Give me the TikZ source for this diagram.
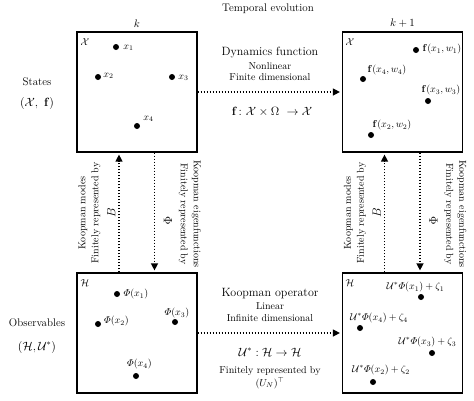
\documentclass[tikz,border=0pt]{standalone}
\usepackage{amsmath,amssymb}
\usetikzlibrary{arrows.meta,positioning}

\tikzset{
  space/.style={draw, line width=1.2pt, minimum size=120pt, inner sep=0pt},
  pt/.style={circle, fill, inner sep=0pt, minimum size=6pt},
  flow/.style={line width=1.3pt, dash pattern=on 1.3pt off 1.7pt,
    -{Triangle[length=7pt, width=7pt]}, shorten >=2pt},
  head/.style={font=\fontsize{12}{14}\selectfont},
  title/.style={font=\fontsize{11}{13}\selectfont},
  sub/.style={font=\fontsize{10}{12}\selectfont},
  side/.style={font=\fontsize{10}{13}\selectfont, align=center, inner sep=0pt},
}

\begin{document}
\begin{tikzpicture}[x=1pt, y=-1pt]
  \useasboundingbox (0,0) rectangle (474,400);

  % Espacios en k y k+1
  \node[space] (xk)  at (137,92)  {};
  \node[space] (xk1) at (402.5,92) {};
  \node[space] (hk)  at (137,333) {};
  \node[space] (hk1) at (402.5,333) {};
  \node at (85,42)  {$\mathcal{X}$};
  \node at (350,42) {$\mathcal{X}$};
  \node at (85,283)  {$\mathcal{H}$};
  \node at (350,283) {$\mathcal{H}$};

  % Titulos
  \node[title] (tev) at (268,9) {Temporal evolution};
  \node[title, above=0pt of xk]  (k0) {$k$};
  \node[title, above=0pt of xk1] (k1) {$k+1$};
  \node[title] (st)  at (37,82)  {States};
  \node[head] (stm) at (37,103) {\large $(\mathcal{X},\ \mathbf{f})$};
  \node[title] (ob)  at (37,323) {Observables};
  \node[head] (obm) at (37,347) {\large $(\mathcal{H},\mathcal{U}^{*})$};

  % Puntos y etiquetas
  \foreach \n/\x/\y/\lx/\ly/\txt in {
    a1/116/47/128.5/48/x_1,
    a2/98/77/108.5/76/x_2,
    a3/172/77/183.5/78/x_3,
    a4/137/126/148.5/119/x_4,
    b1/416/50/442/49/{\mathbf{f}(x_1, w_1)},
    b4/363/79/387/70/{\mathbf{f}(x_4, w_4)},
    b3/428/101/441/90/{\mathbf{f}(x_3, w_3)},
    b2/371/135/392/125/{\mathbf{f}(x_2, w_2)},
    c1/117/294/136/294/\varPhi(x_1),
    c2/98/324/116.5/321/\varPhi(x_2),
    c3/175/322/177/313/\varPhi(x_3),
    c4/136/376/139.5/364/\varPhi(x_4),
    d1/421/297/415.5/287/\mathcal{U}^{*}\varPhi(x_1)+\zeta_1,
    d4/360/328/379/318/\mathcal{U}^{*}\varPhi(x_4)+\zeta_4,
    d3/432/353/427.5/342/\mathcal{U}^{*}\varPhi(x_3)+\zeta_3,
    d2/373/382/381/370/\mathcal{U}^{*}\varPhi(x_2)+\zeta_2
  } {
    \node[pt] (\n) at (\x,\y) {};
    \node (\n-l) at (\lx,\ly) {$\txt$};
  }

  % Evolucion temporal
  \draw[flow] (xk.east) -- (xk1.west);
  \draw[flow] (hk.east) -- (hk1.west);
  \node[head] (dyn) at (270,52) {Dynamics function};
  \node[sub] (dyn1) at (270,66) {Nonlinear};
  \node[sub] (dyn2) at (270,77) {Finite dimensional};
  \node[head] (dynm) at (272,112) {$\mathbf{f}\colon \mathcal{X}\times\Omega\ \rightarrow\mathcal{X}$};
  \node[head] (kop) at (270,294) {Koopman operator};
  \node[sub] (kop1) at (270,306) {Linear};
  \node[sub] (kop2) at (270,318) {Infinite dimensional};
  \node[head] (kopm) at (270,352) {$\mathcal{U}^{*}:\mathcal{H}\rightarrow\mathcal{H}$};
  \node[sub] (kop3) at (270,371) {Finitely represented by};
  \node[sub] (kop4) at (270,383) {$(U_N)^{\top}$};

  % Modos y autofunciones
  \foreach \top/\bot/\d in {xk/hk/0, xk1/hk1/265.5} {
    \draw[flow] ([xshift=-18pt]\bot.north) -- ([xshift=-18pt]\top.south);
    \draw[flow] ([xshift=17.5pt]\top.south) -- ([xshift=17.5pt]\bot.north);
    \node[side, rotate=90] at (97+\d,213)
      {Koopman modes\\Finitely represented by\\[4pt] {\large $B$}};
    \node[side, rotate=-90] at (182.5+\d,214)
      {Koopman eigenfunctions\\Finitely represented by\\[4pt] \hspace*{14pt}{\large $\Phi$}};
  }
\end{tikzpicture}
\end{document}
